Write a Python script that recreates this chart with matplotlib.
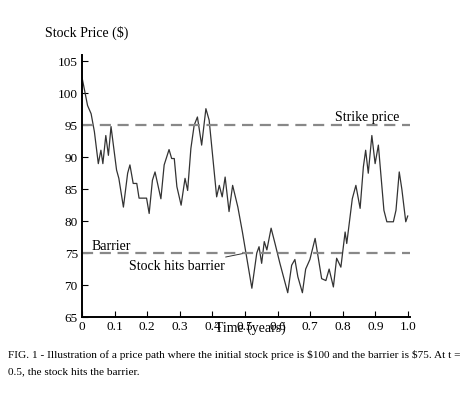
import matplotlib
matplotlib.use("Agg")
import matplotlib.pyplot as plt

t = [0, .007, .017, .028, .038, .05, .058, .064, .073, .081, .089, .106, .113, .127, .140, .147, .157, .168, .175, .198,
     .206, .216, .224, .242, .252, .267, .275, .283, .291, .304, .316, .324, .334, .344, .354, .367, .380, .390, .413, .421,
     .430, .439, .451, .462, .478, .492, .521, .536, .543, .551, .559, .567, .580, .592, .607, .631, .643, .653, .662, .676,
     .686, .699, .715, .735, .748, .758, .771, .781, .794, .807, .812, .829, .840, .853, .863, .870, .878, .889, .899, .909,
     .926, .935, .955, .963, .973, .981, .993, .999]
price = [102.5, 100.7, 98.1, 96.8, 94.0, 89.0, 91.1, 89.0, 93.4, 90.3, 94.8, 88.0, 86.7, 82.2, 87.5, 88.8, 85.9, 85.9, 83.6, 83.6,
         81.2, 86.4, 87.7, 83.5, 88.8, 91.2, 89.8, 89.8, 85.4, 82.5, 86.7, 84.8, 91.4, 95.0, 96.3, 91.9, 97.6, 95.8, 83.8, 85.6,
         83.8, 86.9, 81.5, 85.6, 82.2, 78.3, 69.5, 75.0, 76.0, 73.4, 76.8, 75.5, 78.9, 76.5, 73.4, 68.8, 73.1, 74.0, 71.3, 68.8,
         72.5, 74.0, 77.3, 71.0, 70.7, 72.5, 69.7, 74.2, 72.8, 78.3, 76.5, 83.5, 85.6, 82.0, 88.5, 91.1, 87.5, 93.4, 89.0, 91.9,
         81.7, 79.9, 79.9, 81.7, 87.7, 85.0, 79.9, 80.8]
strike = 95
barrier = 75
xticks = [0, .1, .2, .3, .4, .5, .6, .7, .8, .9, 1.0]
xticklabels = ["0", "0.1", "0.2", "0.3", "0.4", "0.5", "0.6", "0.7", "0.8", "0.9", "1.0"]
yticks = [65, 70, 75, 80, 85, 90, 95, 100, 105]

plt.rcParams['font.family'] = ['Liberation Serif', 'DejaVu Serif']
fig = plt.figure(figsize=(4.74, 4.04), dpi=100)
ax = fig.add_axes([82/474, 1-317/404, (410-82)/474, (317-55)/404])
ax.plot(t, price, color='#333333', lw=0.9)
ax.axhline(strike, color='#888888', lw=1.6, ls=(0, (5, 3)))
ax.axhline(barrier, color='#888888', lw=1.6, ls=(0, (5, 3)))
ax.set_xlim(0, 1.006)
ax.set_ylim(65, 106)
ax.set_xticks(xticks, xticklabels)
ax.set_yticks(yticks)
for s in ['top', 'right']:
    ax.spines[s].set_visible(False)
ax.spines['left'].set_linewidth(1.4)
ax.spines['bottom'].set_linewidth(1.4)
ax.tick_params(direction='in', labelsize=9.5, length=4, pad=3)
ax.text(0.775, 95.7, "Strike price", fontsize=10)
ax.text(0.03, 75.5, "Barrier", fontsize=10)
ax.annotate("Stock hits barrier", xy=(0.5, 75), xytext=(0.145, 72.3), fontsize=10,
            arrowprops=dict(arrowstyle='-', color='#333333', lw=0.7))
fig.text(250/474, 1-328/404, "Time (years)", fontsize=10, ha='center', va='center')
fig.text(45/474, 1-33/404, "Stock Price ($)", fontsize=10, va='center')
fig.text(8/474, 1-355/404, "FIG. 1 - Illustration of a price path where the initial stock price is \\$100 and the barrier is \\$75. At t =",
         fontsize=8.1, va='center')
fig.text(8/474, 1-372/404, "0.5, the stock hits the barrier.", fontsize=8.1, va='center')
fig.savefig("out.png", dpi=100, facecolor='white')
